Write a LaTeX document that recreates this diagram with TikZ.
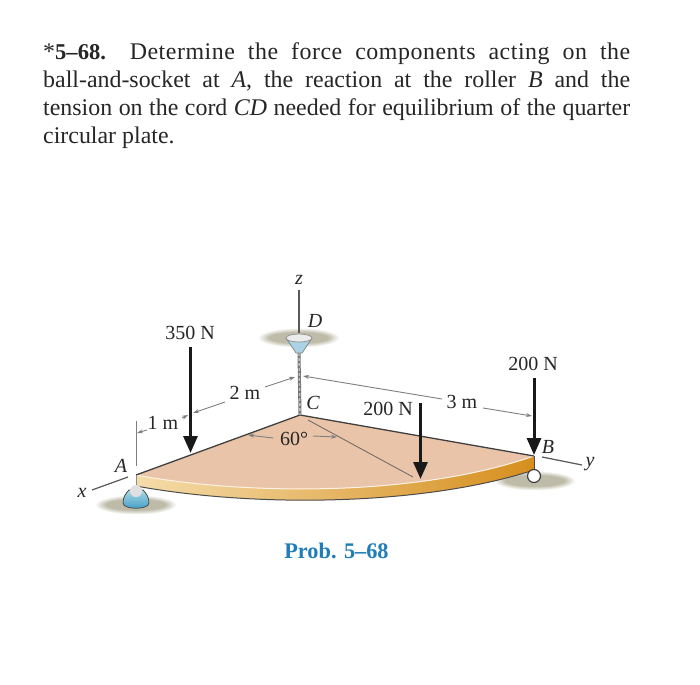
\documentclass[tikz,border=0pt]{standalone}
\usepackage{fontspec}
\setmainfont{Liberation Serif}
\usetikzlibrary{arrows.meta}
\definecolor{plate}{HTML}{E9C4A8}
\definecolor{dimgray}{HTML}{7F7F7F}
\definecolor{shadowc}{HTML}{BEBCA8}
\definecolor{probblue}{HTML}{1F7DB8}
\definecolor{sideL}{HTML}{F5DCAA}
\definecolor{sideM}{HTML}{EBBB72}
\definecolor{sideR}{HTML}{D68F1E}
\definecolor{sockhi}{HTML}{A8D8E6}
\definecolor{socklo}{HTML}{3F9CC4}
\newcommand\softblob[2]{\foreach \k in {0,...,7}{%
  \pgfmathsetmacro\blobrx{40-1.4*\k}%
  \pgfmathsetmacro\blobry{9.5-0.55*\k}%
  \pgfmathsetmacro\blobp{int(12.5*(\k+1))}%
  \fill[shadowc!\blobp!white] (#1,#2) ellipse ({\blobrx pt} and {\blobry pt});}}
\tikzset{
  lbl/.style={font=\fontsize{20}{22}\selectfont,inner sep=0pt,text=black!85},
  ilbl/.style={font=\fontsize{20}{22}\selectfont\itshape,inner sep=0pt,text=black!85},
  dimline/.style={draw=dimgray,line width=0.9pt},
  dimarrow/.style={dimline,-{Stealth[length=6pt,width=4pt]}},
  force/.style={draw=black!90,line width=3pt,-{Triangle[length=17pt,width=14pt]}},
  axisline/.style={draw=black!65,line width=1.2pt},
}
\begin{document}
\begin{tikzpicture}[x=1pt,y=-1pt]
\useasboundingbox (0,0) rectangle (700,684);
\fill[white] (0,0) rectangle (700,684);
\node[anchor=north west,inner sep=0pt,text width=587pt,align=justify,font=\fontsize{23.9}{28.3}\selectfont,text=black!85] (title) at (43,42)
 {*\textbf{\fontsize{22.6}{28.3}\selectfont 5–68.}\hspace{-2pt} {\addfontfeature{LetterSpace=2.2}Determine the force components acting on the}\linebreak
 ball-and-socket at \textit{A}, the reaction at the roller \textit{B} and the\linebreak
 tension on the cord \textit{CD} needed for equilibrium of the quarter\linebreak
 circular plate.};
% key points
\coordinate (A) at (136,475);
\coordinate (AL) at (136,486);
\coordinate (C) at (300,415);
\coordinate (B) at (534,456);
\coordinate (BL) at (534,470);
\coordinate (DB) at (299,353);
% shadows
\softblob{136}{505}
\softblob{299}{338}
\softblob{535}{481}
% plate side
\shade[left color=sideL,middle color=sideM,right color=sideR] (A)
  .. controls (250,496) and (420,496) .. (B) -- (BL)
  .. controls (420,507) and (250,507) .. (AL) -- cycle;
\draw[black!70,line width=1pt] (AL) .. controls (250,507) and (420,507) .. (BL);
\draw[black!70,line width=0.8pt] (B) -- (BL);
\draw[black!45,line width=0.6pt] (A) -- (AL);
% plate top
\fill[plate] (A) -- (C) -- (B) .. controls (420,496) and (250,496) .. (A) -- cycle;
\draw[white!90!orange,line width=1pt] (A) .. controls (250,496) and (420,496) .. (B);
\draw[black!75,line width=1.3pt] (A) -- (C) -- (B);
\draw[black!60,line width=0.8pt] (308,420) coordinate (rs) -- (413,477) coordinate (re);
% cord
\draw[black!55,line width=3pt] (DB) -- (C);
\draw[white!75!black,line width=1.4pt,dash pattern=on 3pt off 2pt] (DB) -- (C);
% cup D
\fill[cyan!30!white!90!black] (286,338) -- (296,353) -- (302,353) -- (312,338) -- cycle;
\draw[black!50,line width=0.7pt] (286,338) -- (296,353) -- (302,353) -- (312,338);
\fill[white!92!black] (299,338) ellipse (13pt and 4pt);
\draw[black!45,line width=0.7pt] (299,338) ellipse (13pt and 4pt);
% socket A
\shade[top color=sockhi,bottom color=socklo,draw=black!70,line width=0.8pt] (123,503) .. controls (123,497) and (126,493) .. (129,490) -- (143,490) .. controls (146,493) and (149,497) .. (149,503) .. controls (149,510) and (123,510) .. (123,503) -- cycle;
\fill[white!88!black] (136,491) circle (6pt);
% roller
\draw[black!75,fill=white,line width=1.2pt] (534,476) coordinate (rc) circle (6.5pt);
% axes
\coordinate (z1) at (299,290); \coordinate (z2) at (299,333);
\draw[axisline] (z1) -- (z2);
\coordinate (x1) at (92,490); \coordinate (x2) at (128,477);
\draw[axisline] (x1) -- (x2);
\coordinate (y1) at (542,457); \coordinate (y2) at (582,465);
\draw[axisline] (y1) -- (y2);
% dimensions
\coordinate (ea) at (136,421); \coordinate (eb) at (136,466);
\draw[dimline] (ea) -- (eb);
\coordinate (d1a) at (147,430); \coordinate (d1b) at (137,433);
\draw[dimarrow] (d1a) -- (d1b);
\coordinate (d1c) at (182,418); \coordinate (d1d) at (188,415);
\draw[dimarrow] (d1c) -- (d1d);
\coordinate (d2a) at (225,402); \coordinate (d2b) at (193,413);
\draw[dimarrow] (d2a) -- (d2b);
\coordinate (d2c) at (265,387); \coordinate (d2d) at (295,377);
\draw[dimarrow] (d2c) -- (d2d);
\coordinate (d3a) at (442,399); \coordinate (d3b) at (303,376);
\draw[dimarrow] (d3a) -- (d3b);
\coordinate (d3c) at (483,408); \coordinate (d3d) at (532,416);
\draw[dimarrow] (d3c) -- (d3d);
\coordinate (a1) at (273,438); \coordinate (a2) at (248,435);
\draw[dimarrow] (a1) -- (a2);
\coordinate (a3) at (313,436); \coordinate (a4) at (337,437);
\draw[dimarrow] (a3) -- (a4);
% forces
\coordinate (f1a) at (190.5,347); \coordinate (f1b) at (190.5,453);
\draw[force] (f1a) -- (f1b);
\coordinate (f2a) at (420.5,403); \coordinate (f2b) at (420.5,479);
\draw[force] (f2a) -- (f2b);
\coordinate (f3a) at (534,378); \coordinate (f3b) at (534,455);
\draw[force] (f3a) -- (f3b);
% labels
\node[lbl] (l350) at (190,333) {350 N};
\node[lbl] (l200a) at (388,409) {200 N};
\node[lbl] (l200b) at (533,364) {200 N};
\node[lbl] (l1m) at (163,423) {1 m};
\node[lbl] (l2m) at (245,393) {2 m};
\node[lbl] (l3m) at (462,402) {3 m};
\node[lbl] (l60) at (294,439) {60°};
\node[ilbl] (lA) at (121,466) {A};
\node[ilbl] (lB) at (548,447) {B};
\node[ilbl] (lC) at (313,403) {C};
\node[ilbl] (lD) at (315,321) {D};
\node[ilbl] (lx) at (82,493) {x};
\node[ilbl] (ly) at (590,464) {y};
\node[ilbl] (lz) at (299,280) {z};
\node[font=\fontsize{22.3}{24}\selectfont\bfseries,text=probblue,inner sep=0pt] (prob) at (336.5,551) {Prob. 5–68};
\end{tikzpicture}
\end{document}
